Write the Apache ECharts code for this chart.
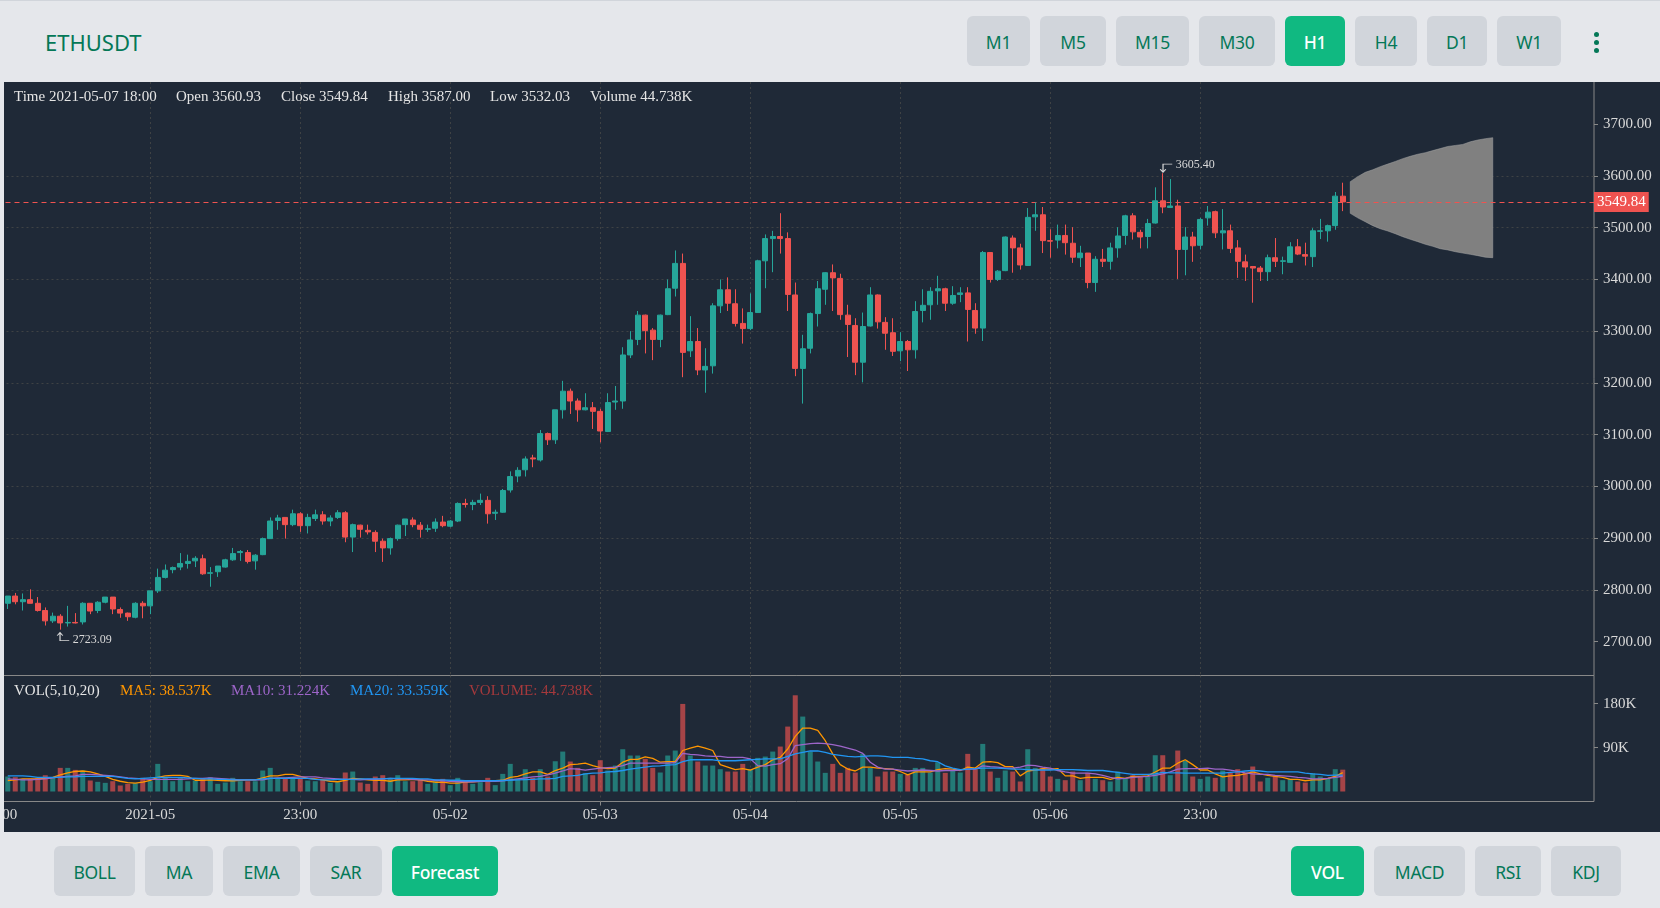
<!DOCTYPE html>
<html>
<head>
	<meta charset="utf-8">
	<title>ETHUSDT</title>
	<style type="text/css">
		body{
			margin: 0px;
			width: 1660px;
			height: 908px;
			overflow: hidden;
			position: relative;
			background: #e5e7eb;
			font-family: "Noto Sans", sans-serif;
		}
		.topline{
			position: absolute; left: 0; top: 0; width: 1660px; height: 1px;
			background: #d1d5db;
		}
		.symbol{
			position: absolute; left: 45px; top: 26px;
			font-size: 22px; line-height: 32px; color: #047857;
		}
		.btn{
			position: absolute; height: 50px; line-height: 52px;
			text-align: center; font-size: 17.5px; letter-spacing: -0.3px;
			color: #047857; background: #d1d5db; border-radius: 6px;
		}
		.btn.on{
			color: #fff; background: #10b981; font-weight: 500;
		}
		.top{ top: 16px; }
		.bottom{ top: 846px; }
		.dot{
			position: absolute; left: 1594px; width: 5px; height: 5px;
			border-radius: 50%; background: #047857;
		}
		.chart{
			position: absolute; left: 0; top: 82px;
			width: 1660px; height: 750px;
		}
		.strip{
			position: absolute; left: 0; top: 82px; width: 4px; height: 750px;
			background: #e5e7eb;
		}
	</style>
	<script type="text/javascript" src="https://cdn.jsdelivr.net/npm/echarts@6/dist/echarts.min.js"></script>
</head>
<body>
	<div class="topline"></div>
	<div class="symbol">ETHUSDT</div>
	<div class="btn top" style="left:967px;width:63px">M1</div>
	<div class="btn top" style="left:1040px;width:66px">M5</div>
	<div class="btn top" style="left:1116px;width:73px">M15</div>
	<div class="btn top" style="left:1199px;width:76px">M30</div>
	<div class="btn top on" style="left:1285px;width:60px">H1</div>
	<div class="btn top" style="left:1355px;width:62px">H4</div>
	<div class="btn top" style="left:1427px;width:60px">D1</div>
	<div class="btn top" style="left:1497px;width:64px">W1</div>
	<div class="dot" style="top:32px"></div>
	<div class="dot" style="top:40px"></div>
	<div class="dot" style="top:48px"></div>

	<div id="chart" class="chart"></div>
	<div class="strip"></div>

	<div class="btn bottom" style="left:54px;width:81px">BOLL</div>
	<div class="btn bottom" style="left:145px;width:68px">MA</div>
	<div class="btn bottom" style="left:223px;width:77px">EMA</div>
	<div class="btn bottom" style="left:310px;width:72px">SAR</div>
	<div class="btn bottom on" style="left:392px;width:106px">Forecast</div>
	<div class="btn bottom on" style="left:1291px;width:73px">VOL</div>
	<div class="btn bottom" style="left:1374px;width:91px">MACD</div>
	<div class="btn bottom" style="left:1475px;width:66px">RSI</div>
	<div class="btn bottom" style="left:1551px;width:70px">KDJ</div>

	<script type="text/javascript">
		// one label every 20 bars, the first one is cut off by the left edge
		var tickLabels = ['20:00', '2021-05', '23:00', '05-02', '05-03', '05-04', '05-05', '05-06', '23:00'];

		var opens = [
			2774,2788,2777,2781,2774,2760,2740,2749,2736,2737,
			2738,2774,2760,2776,2786,2762,2755,2747,2774,2769,
			2798,2824,2839,2844,2851,2856,2860,2832,2835,2844,
			2858,2872,2872,2856,2868,2899,2934,2940,2926,2947,
			2924,2938,2945,2933,2940,2949,2902,2925,2915,2911,
			2894,2881,2899,2926,2935,2925,2917,2919,2931,2923,
			2933,2967,2965,2969,2973,2948,2950,2993,3020,3032,
			3055,3051,3102,3090,3148,3184,3165,3148,3152,3145,
			3106,3163,3165,3254,3284,3331,3302,3284,3332,3383,
			3431,3262,3280,3225,3233,3349,3380,3353,3315,3305,
			3336,3436,3479,3483,3479,3370,3228,3267,3334,3381,
			3413,3402,3331,3311,3240,3310,3370,3317,3297,3262,
			3280,3264,3340,3351,3378,3382,3354,3371,3374,3340,
			3306,3452,3400,3417,3480,3461,3427,3521,3525,3475,
			3476,3485,3470,3442,3451,3394,3439,3435,3461,3485,
			3523,3491,3483,3509,3552,3539,3542,3458,3482,3466,
			3519,3531,3490,3494,3461,3434,3425,3422,3415,3442,
			3435,3433,3463,3448,3444,3493,3494,3504,3560.93
		];
		var closes = [
			2788,2777,2781,2774,2760,2740,2749,2736,2737,2736,
			2774,2759,2776,2786,2763,2755,2748,2774,2769,2798,
			2824,2838,2843,2851,2855,2861,2831,2833,2846,2858,
			2870,2874,2855,2867,2899,2933,2939,2926,2947,2924,
			2940,2945,2933,2939,2949,2902,2926,2917,2912,2894,
			2881,2899,2925,2937,2926,2917,2918,2931,2924,2933,
			2967,2965,2969,2973,2947,2950,2992,3019,3031,3053,
			3053,3102,3090,3148,3184,3165,3148,3152,3145,3107,
			3162,3165,3254,3283,3331,3301,3284,3331,3382,3431,
			3259,3280,3225,3232,3349,3380,3354,3315,3305,3336,
			3436,3479,3483,3479,3371,3228,3266,3334,3382,3413,
			3403,3332,3313,3240,3309,3370,3318,3296,3261,3280,
			3264,3338,3350,3377,3382,3354,3369,3374,3342,3306,
			3452,3400,3416,3482,3461,3428,3520,3525,3475,3474,
			3485,3471,3443,3451,3394,3439,3435,3461,3484,3523,
			3492,3482,3508,3552,3540,3542,3458,3482,3465,3516,
			3530,3490,3494,3460,3435,3424,3422,3415,3442,3435,
			3436,3463,3449,3445,3494,3494,3504,3561,3549.84
		];
		var lows = [
			2763,2772,2760,2774,2758,2731,2736,2723.09,2729,2735,
			2733,2753,2755,2774,2753,2746,2740,2745,2745,2753,
			2794,2822,2832,2838,2841,2844,2829,2806,2825,2843,
			2856,2856,2851,2839,2867,2899,2916,2899,2923,2912,
			2909,2933,2926,2923,2937,2892,2873,2901,2907,2873,
			2854,2868,2895,2904,2921,2901,2912,2912,2921,2921,
			2931,2959,2954,2964,2928,2935,2949,2988,3008,3019,
			3037,3048,3080,3082,3131,3140,3125,3147,3111,3085,
			3105,3148,3150,3248,3273,3257,3244,3269,3331,3367,
			3211,3250,3215,3181,3218,3335,3339,3309,3276,3302,
			3336,3383,3414,3450,3339,3213,3160,3257,3309,3351,
			3339,3322,3250,3215,3201,3309,3305,3264,3252,3242,
			3223,3247,3317,3322,3351,3339,3351,3356,3280,3295,
			3281,3394,3397,3416,3413,3419,3426,3494,3451,3442,
			3460,3448,3432,3424,3383,3376,3424,3419,3442,3467,
			3477,3460,3460,3508,3528,3538,3401,3408,3434,3458,
			3504,3480,3458,3451,3403,3397,3355,3397,3397,3424,
			3410,3432,3447,3427,3424,3478,3473,3496,3532.03
		];
		var highs = [
			2788,2794,2793,2801,2786,2766,2756,2753,2769,2755,
			2776,2774,2778,2786,2786,2766,2756,2776,2778,2798,
			2841,2849,2845,2871,2868,2865,2868,2844,2846,2860,
			2881,2877,2877,2869,2901,2940,2945,2940,2955,2950,
			2947,2955,2952,2944,2954,2952,2928,2926,2926,2915,
			2899,2901,2926,2937,2940,2931,2926,2938,2943,2935,
			2969,2976,2974,2986,2981,2955,2995,3029,3037,3058,
			3061,3109,3104,3148,3204,3189,3170,3180,3163,3150,
			3180,3194,3269,3300,3339,3332,3306,3332,3400,3456,
			3450,3329,3306,3267,3354,3400,3404,3381,3344,3373,
			3438,3487,3494,3528,3491,3394,3293,3336,3397,3414,
			3429,3411,3351,3325,3336,3385,3371,3327,3325,3298,
			3283,3358,3381,3385,3407,3384,3387,3385,3385,3354,
			3455,3452,3418,3483,3485,3469,3538,3549,3540,3497,
			3506,3506,3501,3465,3451,3445,3459,3471,3501,3525,
			3528,3496,3517,3578,3605.4,3594,3554,3501,3492,3519,
			3542,3533,3536,3506,3476,3448,3426,3426,3448,3480,
			3444,3472,3478,3471,3499,3517,3506,3569,3587
		];
		// volume in thousands
		var volumes = [
			30.7,29.3,25.9,25.9,28,33.4,28,48.4,48.4,44.3,
			43,22.5,19.8,17.7,21.1,12.3,15.7,17,28,21.1,
			56.6,28,21.1,28,21.1,22.5,25.9,29.3,15.7,18.4,
			28,21.1,21.1,21.1,43,48.4,28,25.9,29.3,28,
			22.5,21.1,23.9,17.7,19.1,38.9,40.9,18.4,15.7,30.7,
			33.4,25.9,33.4,21.1,21.1,25.9,15.7,21.1,25.9,13,
			28,21.1,15.7,19.1,28,13,36.1,56.6,25.9,45.7,
			28,45.7,30.7,62,81.8,61.4,48.4,37.5,33.4,64.1,
			43,53.2,86.6,73.7,73.7,66.8,48.4,38.9,73.7,83.9,
			179.4,73.7,61.4,53.2,53.2,45.7,40.9,40.9,56.6,45.7,
			68.9,71.6,81.8,92.1,133,197.1,153.5,81.8,61.4,38.2,
			56.6,38.2,48.4,38.9,77.1,48.4,30.7,40.9,40.9,36.1,
			34.1,48.4,48.4,38.9,60,38.2,43,38.9,77.1,48.4,
			97.5,40.9,28,43,40.9,20.5,86.6,48.4,48.4,30.7,
			25.9,23.2,40.9,23.2,38.2,25.9,23.2,20.5,40.9,25.9,
			33.4,30.7,30.7,74.3,74.3,33.4,83.9,63.4,30.7,25.9,
			30.7,28,43,38.2,45.7,38.2,51.2,20.5,28,33.4,
			23.2,25.9,20.5,18.4,37.5,30.7,25.9,45.7,44.738
		];
		var ma5 = [
			22.5,24,26,26,26,27,29,34,38,41,
			42,40,36,31,25,21,18,17,19,23,
			29,32,33,33,31,23,23,24,23,22,
			22,23,24,24,28,32,32,35,35,31,
			27,26,24,21,20,23,27,26,24,23,
			23,21,24,24,25,24,21,19,19,17,
			17,19,20,21,22,22,23,29,31,36,
			40,40,35,43,48,55,56,58,53,49,
			47,48,60,66,66,71,68,60,61,61,
			84,89,93,89,84,55,50,45,47,44,
			50,55,65,70,87,113,130,130,125,104,
			77,55,46,42,50,50,48,47,46,41,
			34,40,40,40,45,47,46,43,50,48,
			60,61,59,51,51,32,42,44,47,46,
			47,32,32,27,29,29,29,25,29,27,
			31,31,32,40,48,48,58,65,55,44,
			44,36,30,32,33,36,40,36,33,31,
			29,25,25,22,24,24,27,31,38.537
		];
		var ma10 = [
			26,25,24,24,25,26,28,30,31,32,
			35,35,34,33,32,30,28,27,26,25,
			25,25,25,25,26,27,27,28,27,26,
			25,24,24,24,24,27,28,28,29,30,
			30,30,28,27,26,25,25,24,25,25,
			26,27,26,26,25,24,24,23,22,21,
			20,20,20,21,21,21,22,24,26,28,
			30,31,34,37.5,42,47,46,44,46,48,
			49,50,53,58,58,58,58,58,58,59,
			78,76,75,73,72,72,70,70,70,67,
			53,52,55,57,67,94,96,98,99,98,
			96,93,89,85,78,60,50,46,46,44,
			42,43,44,43,42,43,43,44,46,46,
			52.5,51,50,48,48,50,54,53,50,48,
			43,40,37.5,37.5,37.5,36,33,29,26,27,
			29,30,31,33,36,40,46,47,47,47,
			48,46,46,44,41,38,36,35,35,33,
			32,31,29,28,26,26,27,29,31.224
		];
		var ma20 = [
			32,32,32,31,29,29,29,29,30,30,
			31,31,31,31,31,29,27,26,27,28,
			29,29,29,29,28,27,26,26,25,25,
			24,24,24,24,26,27,27,27,27,27,
			27,25,24,24,25,25,25,26,26,26,
			26,27,27,27,27,26,26,24,24,23,
			23,22,22,22,22,22,22.5,23,24,24.5,
			25,26,26,27,31,32,33,36,37.5,38,
			40,41,43,46,48,50,52,52.5,54,55,
			61,65,65,65,65,63,63,63,64,65,
			66,67,67,67,72,77,80,83,83,80,
			76,74,72,71,72,73,73,72,70,70,
			70,68,67,63,61,52.5,48,45,46,47,
			48,48,48,47,46,46,45,44,44,44,
			45,45,45,44,43,43,43,41,39,37,
			35,35,35,36,39,38,38,37.5,37.5,37.5,
			37.5,37.5,37.5,39,40,42,43,42,40,40,
			40,40,40,37.5,36,35,33,33.4,33.359
		];
		var forecastUpper = [3589,3598.7,3607,3612,3618,3623,3628,3633.5,3638,3642,3645,3649,3653,3657,3659,3661,3666,3669.5,3672,3674];
		var forecastLower = [3527.8,3519,3511.6,3504,3498,3493.6,3488.4,3482.6,3477.6,3473,3468,3464,3459.4,3457,3453.6,3451,3448.5,3446,3443,3442];
		var priceTicks = [2700,2800,2900,3000,3100,3200,3300,3400,3500,3600,3700];
		var volumeTicks = [90,180];
		var lastPrice = 3549.84;
		var highPoint = {bar: 154, value: 3605.4};
		var lowPoint = {bar: 7, value: 2723.09};

		var infoTexts = [
			['Time 2021-05-07 18:00', 14, 8, '#e5e5e5'],
			['Open 3560.93', 176, 8, '#e5e5e5'],
			['Close 3549.84', 281, 8, '#e5e5e5'],
			['High 3587.00', 388, 8, '#e5e5e5'],
			['Low 3532.03', 490, 8, '#e5e5e5'],
			['Volume 44.738K', 590, 8, '#e5e5e5'],
			['VOL(5,10,20)', 14, 602, '#e5e5e5'],
			['MA5: 38.537K', 120, 602, '#ff9600'],
			['MA10: 31.224K', 231, 602, '#9d65c9'],
			['MA20: 33.359K', 350, 602, '#2196f3'],
			['VOLUME: 44.738K', 469, 602, '#a5393c']
		];

		window.onload = function(){
			var chart = echarts.init(document.getElementById('chart'));
			var UP = '#26a69a', DOWN = '#ef5350';
			var serif = '"Liberation Serif", serif';
			var labelColor = '#d9d9d9';
			var gridColor = '#3f4244';
			var axisColor = '#888888';
			var BARS = 213;

			var categories = [];
			for(var i = 0; i < BARS; i++){
				categories[i] = i % 20 == 0 && tickLabels[i / 20] ? tickLabels[i / 20] : '';
			}
			// index 0 of the axis sits under the left edge, so every series starts one bar in
			var candles = opens.map(function(o, i){
				return [o, closes[i], lows[i], highs[i]];
			});
			var volumeBars = volumes.map(function(v, i){
				return {
					value: v,
					itemStyle: {color: closes[i] < opens[i] ? 'rgba(239,83,80,0.65)' : 'rgba(38,166,154,0.65)'}
				};
			});
			var pad = function(arr){ return ['-'].concat(arr); };
			var forecast = forecastUpper.map(function(u, i){
				return [180 + i, u, forecastLower[i]];
			});
			var hasLabel = function(index, value){ return value !== ''; };

			var catAxis = function(gridIndex, shown, withLabels){
				return {
					type: 'category',
					gridIndex: gridIndex,
					data: categories,
					show: shown,
					boundaryGap: true,
					axisLine: {show: false},
					axisTick: {show: withLabels, interval: hasLabel, alignWithLabel: true, length: 4, lineStyle: {color: axisColor}},
					axisLabel: {show: withLabels, interval: hasLabel, margin: 6, color: labelColor, fontFamily: serif, fontSize: 15, hideOverlap: false},
					splitLine: {show: shown, interval: hasLabel, alignWithLabel: true, lineStyle: {color: gridColor, type: [2, 3]}}
				};
			};
			var frameAxis = function(gridIndex){
				return {type: 'value', gridIndex: gridIndex, show: false, min: 0, max: 1, interval: 1, splitLine: {show: false}};
			};

			chart.setOption({
				animation: false,
				title: infoTexts.map(function(t){
					return {
						text: t[0], left: t[1], top: t[2], padding: 0,
						textStyle: {color: t[3], fontFamily: serif, fontSize: 15, fontWeight: 'normal'}
					};
				}),
				backgroundColor: '#1f2937',
				grid: [
					{left: -3.5, width: 1597.5, top: -9.5, height: 620.8, outerBoundsMode: 'none'},
					{left: -3.5, width: 1597.5, top: 577.7, height: 131.8, outerBoundsMode: 'none'},
					{left: -3.5, width: 1597.5, top: -5, height: 598.5, outerBoundsMode: 'none', show: true, backgroundColor: 'transparent', borderColor: axisColor, borderWidth: 1},
					{left: -3.5, width: 1597.5, top: 593.5, height: 126, outerBoundsMode: 'none', show: true, backgroundColor: 'transparent', borderColor: axisColor, borderWidth: 1}
				],
				xAxis: [
					catAxis(0, false, false),
					catAxis(1, false, false),
					catAxis(2, true, false),
					catAxis(3, true, true)
				],
				yAxis: [
					{
						type: 'value', gridIndex: 0, position: 'right', scale: true,
						min: 2600, max: 3800, interval: 100,
						axisLine: {show: false},
						axisTick: {show: true, length: 4, customValues: priceTicks, lineStyle: {color: axisColor}},
						axisLabel: {
							customValues: priceTicks, margin: 9, color: labelColor, fontFamily: serif, fontSize: 15,
							padding: [0, 0, 3, 0],
							formatter: function(v){ return v.toFixed(2); }
						},
						splitLine: {show: true, showMinLine: false, showMaxLine: false, lineStyle: {color: gridColor, type: [2, 3]}}
					},
					{
						type: 'value', gridIndex: 1, position: 'right',
						min: 0, max: 270, interval: 90,
						axisLine: {show: false},
						axisTick: {show: true, length: 4, customValues: volumeTicks, lineStyle: {color: axisColor}},
						axisLabel: {
							customValues: volumeTicks, margin: 9, color: labelColor, fontFamily: serif, fontSize: 15,
							padding: [0, 0, 3, 0],
							formatter: function(v){ return v + 'K'; }
						},
						splitLine: {show: true, showMinLine: false, showMaxLine: false, lineStyle: {color: gridColor, type: [2, 3]}}
					},
					frameAxis(2),
					frameAxis(3)
				],
				series: [
					{
						type: 'custom',
						xAxisIndex: 0,
						yAxisIndex: 0,
						z: 2,
						clip: false,
						encode: {x: 0, y: [1, 2]},
						data: forecast,
						renderItem: function(params, api){
							if(params.dataIndex != 0){
								return null;
							}
							var points = [];
							forecast.forEach(function(f){ points.push(api.coord([f[0], f[1]])); });
							forecast.slice().reverse().forEach(function(f){ points.push(api.coord([f[0], f[2]])); });
							return {
								type: 'polygon',
								shape: {points: points},
								style: {fill: '#808080', stroke: '#a6a6a6', lineWidth: 0.5}
							};
						}
					},
					{
						type: 'candlestick',
						name: 'ETHUSDT',
						xAxisIndex: 0,
						yAxisIndex: 0,
						z: 5,
						barWidth: 5.3,
						data: pad(candles),
						itemStyle: {color: UP, color0: DOWN, borderColor: UP, borderColor0: DOWN, borderWidth: 1},
						markLine: {
							silent: true,
							symbol: 'none',
							animation: false,
							lineStyle: {color: DOWN, type: [5, 4], width: 1},
							label: {
								show: true, position: 'end', distance: 0,
								formatter: function(){ return lastPrice.toFixed(2); },
								backgroundColor: DOWN, color: '#ffffff', fontFamily: serif, fontSize: 15,
								padding: [3, 3, 2, 3]
							},
							data: [{yAxis: lastPrice}]
						},
						markPoint: {
							silent: true,
							animation: false,
							itemStyle: {color: 'transparent', borderColor: labelColor, borderWidth: 1},
							label: {
								position: 'right', distance: 6, color: labelColor, fontFamily: serif, fontSize: 12,
								formatter: function(p){ return p.value.toFixed(2); }
							},
							data: [
								{
									coord: [highPoint.bar + 1, highPoint.value], value: highPoint.value,
									symbol: 'path://M10 0 L0 0 L0 8 M-3 5 L0 8 L3 5',
									symbolSize: [12, 8], symbolOffset: [3.5, -5],
									symbolKeepAspect: false,
									label: {offset: [-3, -3]}
								},
								{
									coord: [lowPoint.bar + 1, lowPoint.value], value: lowPoint.value,
									symbol: 'path://M10 8 L0 8 L0 0 M-3 3 L0 0 L3 3',
									symbolSize: [12, 8], symbolOffset: [3, 7],
									symbolKeepAspect: false,
									label: {offset: [-3, 3]}
								}
							]
						}
					},
					{
						type: 'bar',
						name: 'VOLUME',
						xAxisIndex: 1,
						yAxisIndex: 1,
						barWidth: 5,
						data: pad(volumeBars)
					},
					{type: 'line', name: 'MA5', xAxisIndex: 1, yAxisIndex: 1, data: pad(ma5), showSymbol: false, lineStyle: {color: '#ff9600', width: 1.3}},
					{type: 'line', name: 'MA10', xAxisIndex: 1, yAxisIndex: 1, data: pad(ma10), showSymbol: false, lineStyle: {color: '#9d65c9', width: 1.3}},
					{type: 'line', name: 'MA20', xAxisIndex: 1, yAxisIndex: 1, data: pad(ma20), showSymbol: false, lineStyle: {color: '#2196f3', width: 1.3}}
				]
			});
		}
	</script>
</body>
</html>
